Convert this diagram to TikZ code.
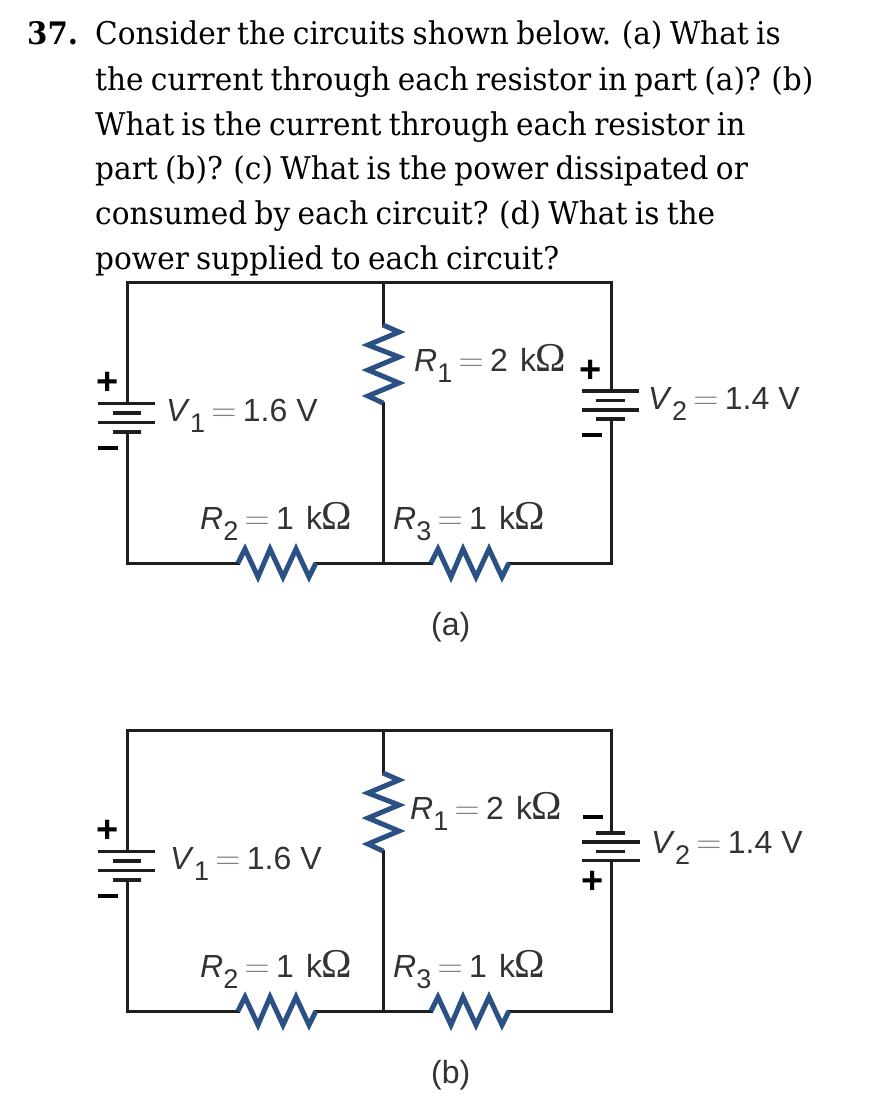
\documentclass[tikz,border=0pt]{standalone}
\usepackage{graphicx}
\usepackage{fontspec}
\setmainfont{Liberation Sans}
\newfontfamily\bodyfont[FakeStretch=0.945,WordSpace=0.78]{DejaVu Serif}
\newfontfamily\omegafont{Liberation Serif}
\newcommand{\lbl}[3]{\textit{#1}\raisebox{-0.36em}{\fontsize{27}{27}\selectfont #2}\hspace{0.2em}\raisebox{-0.03em}{\color{gray}\scalebox{1.4}{$=$}}\hspace{0.2em}#3}
\newcommand{\kohm}{\hspace{0.38em}k\hspace{-0.02em}{\omegafont\fontsize{41}{41}\selectfont Ω}}
\definecolor{wirec}{HTML}{1E1E1E}
\definecolor{resc}{HTML}{2B5083}
\definecolor{textc}{HTML}{333333}
\tikzset{
  wire/.style={draw=wirec,line width=3pt,line cap=rect},
  res/.style={draw=resc,line width=5pt,line join=miter,miter limit=3},
  plate/.style={draw=wirec,line width=3.2pt},
  lab/.style={inner sep=0pt,anchor=base west,text=textc,font=\fontsize{32}{32}\selectfont},
  sign/.style={inner sep=0pt,text=black,font=\fontsize{38}{38}\selectfont\bfseries},
  body/.style={inner sep=0pt,anchor=base west,text=black,font=\bodyfont\fontsize{31.3}{31.3}\selectfont}
}
\newcommand{\minusbar}{\rule{20pt}{4.4pt}}
% one circuit: #1 = dy, #2 = name prefix
\newcommand{\circuitbase}[2]{%
  \begin{scope}[yshift=-#1pt]
  \coordinate (#2tl) at (127,282);
  \coordinate (#2tm) at (383,282);
  \coordinate (#2tr) at (611,282);
  \coordinate (#2bl) at (127,563);
  \coordinate (#2bm) at (383,563);
  \coordinate (#2br) at (611,563);
  \coordinate (#2r1a) at (383,325);
  \coordinate (#2r1b) at (383,403);
  \coordinate (#2r2a) at (238,563);
  \coordinate (#2r2b) at (316,563);
  \coordinate (#2r3a) at (431,563);
  \coordinate (#2r3b) at (509,563);
  \coordinate (#2b1a) at (127,403.5);
  \coordinate (#2b1b) at (127,432);
  % battery 1
  \draw[wire] (#2b1a) -- (#2tl) -- (#2tr);
  \draw[wire] (#2b1b) -- (#2bl) -- (#2r2a);
  \draw[wire] (#2r2b) -- (#2r3a);
  \draw[wire] (#2r3b) -- (#2br);
  \draw[wire] (#2tm) -- (#2r1a);
  \draw[wire] (#2r1b) -- (#2bm);
  \draw[plate] (98,403.5) -- (155,403.5);
  \draw[plate] (113,413) -- (141,413);
  \draw[plate] (98,422.5) -- (155,422.5);
  \draw[plate] (113,432) -- (141,432);
  \node[sign] (#2plusl) at (108,383) {+};
  \node[sign] (#2minusl) at (108,448) {\minusbar};
  % resistors
  \draw[res] (#2r1a) -- (399,332) -- (368,345) -- (399,357) -- (368,370) -- (399,383) -- (368,396) -- (#2r1b);
  \draw[res] (#2r2a) -- (245,549) -- (258,577) -- (270,549) -- (283,577) -- (296,549) -- (309,577) -- (#2r2b);
  \draw[res] (#2r3a) -- (438,549) -- (451,577) -- (463,549) -- (476,577) -- (489,549) -- (502,577) -- (#2r3b);
  \end{scope}
}
\begin{document}
\begin{tikzpicture}[x=1pt,y=-1pt]
\useasboundingbox (0,0) rectangle (880,1108);
\fill[white] (0,0) rectangle (880,1108);
\node[body,font=\bodyfont\fontsize{31}{31}\selectfont\bfseries] (num) at (27,45) {37.};
\node[body] (l1) at (95,45) {Consider the circuits shown below. (a) What is};
\node[body] (l2) at (95,90) {the current through each resistor in part (a)? (b)};
\node[body] (l3) at (95,135) {What is the current through each resistor in};
\node[body] (l4) at (95,179) {part (b)? (c) What is the power dissipated or};
\node[body] (l5) at (95,224) {consumed by each circuit? (d) What is the};
\node[body] (l6) at (95,269) {power supplied to each circuit?};

\circuitbase{0}{a}
\circuitbase{448}{b}

% battery 2, circuit a
\coordinate (abt) at (611,391);
\coordinate (abb) at (611,419);
\draw[wire] (atr) -- (abt);
\draw[wire] (abb) -- (abr);
\draw[plate] (582,391) -- (639,391);
\draw[plate] (596,400.5) -- (625,400.5);
\draw[plate] (582,410) -- (639,410);
\draw[plate] (596,419) -- (625,419);
\node[sign] (aplusr) at (591,371) {+};
\node[sign] (aminusr) at (592,435) {\minusbar};

% battery 2, circuit b
\coordinate (bbt) at (611,833);
\coordinate (bbb) at (611,861);
\draw[wire] (btr) -- (bbt);
\draw[wire] (bbb) -- (bbr);
\draw[plate] (596,833) -- (625,833);
\draw[plate] (582,842) -- (640,842);
\draw[plate] (596,851.5) -- (625,851.5);
\draw[plate] (582,860.5) -- (640,860.5);
\node[sign] (bminusr) at (593,817) {\minusbar};
\node[sign] (bplusr) at (593,882) {+};

% labels (a)
\node[lab] (av1) at (166,421) {\lbl{V}{1}{1.6 V}};
\node[lab] (ar1) at (414,371) {\lbl{R}{1}{2\kohm}};
\node[lab] (av2) at (648,409) {\lbl{V}{2}{1.4 V}};
\node[lab] (ar2) at (200,529) {\lbl{R}{2}{1\kohm}};
\node[lab] (ar3) at (393,529) {\lbl{R}{3}{1\kohm}};
\node[lab] (capa) at (431,635) {(a)};
% labels (b)
\node[lab] (bv1) at (170,869) {\lbl{V}{1}{1.6 V}};
\node[lab] (br1) at (410,819) {\lbl{R}{1}{2\kohm}};
\node[lab] (bv2) at (651,853) {\lbl{V}{2}{1.4 V}};
\node[lab] (br2) at (200,977) {\lbl{R}{2}{1\kohm}};
\node[lab] (br3) at (393,977) {\lbl{R}{3}{1\kohm}};
\node[lab] (capb) at (431,1083) {(b)};
\end{tikzpicture}
\end{document}
